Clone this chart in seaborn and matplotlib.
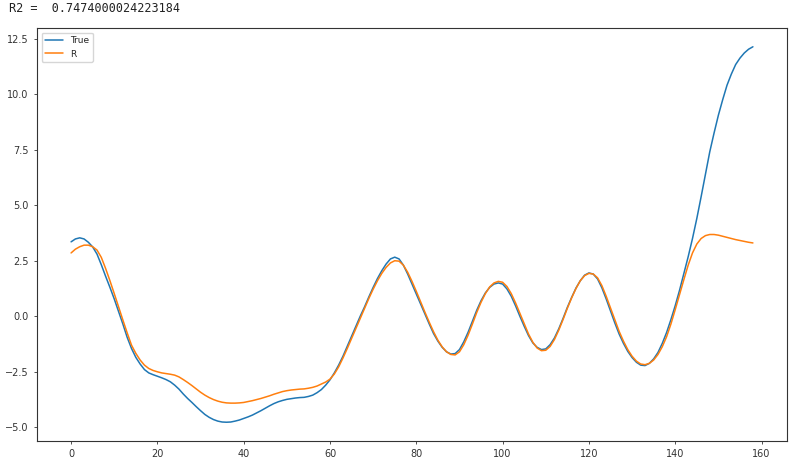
import numpy as np
import pandas as pd
import matplotlib
matplotlib.use('Agg')
import matplotlib.pyplot as plt
import seaborn as sns

# values, one per step
steps = list(range(159))
true_vals = [3.35, 3.48, 3.53, 3.48, 3.33, 3.12, 2.8, 2.32, 1.8, 1.3,
             0.78, 0.22, -0.35, -0.95, -1.45, -1.85, -2.15, -2.4, -2.55, -2.63,
             -2.7, -2.77, -2.85, -2.95, -3.1, -3.28, -3.5, -3.7, -3.88, -4.07,
             -4.25, -4.42, -4.55, -4.65, -4.72, -4.76, -4.77, -4.76, -4.72, -4.67,
             -4.6, -4.53, -4.45, -4.35, -4.25, -4.14, -4.03, -3.93, -3.85, -3.79,
             -3.74, -3.71, -3.68, -3.66, -3.65, -3.61, -3.55, -3.44, -3.3, -3.1,
             -2.86, -2.55, -2.2, -1.8, -1.35, -0.9, -0.45, 0.0, 0.42, 0.87,
             1.3, 1.7, 2.05, 2.35, 2.58, 2.66, 2.58, 2.3, 1.9, 1.45,
             1.0, 0.55, 0.1, -0.35, -0.78, -1.12, -1.4, -1.6, -1.7, -1.68,
             -1.5, -1.15, -0.72, -0.22, 0.27, 0.7, 1.05, 1.3, 1.45, 1.5,
             1.45, 1.23, 0.9, 0.47, 0.0, -0.45, -0.87, -1.2, -1.4, -1.5,
             -1.47, -1.28, -0.98, -0.57, -0.1, 0.4, 0.85, 1.27, 1.6, 1.85,
             1.95, 1.9, 1.68, 1.28, 0.78, 0.24, -0.3, -0.8, -1.22, -1.58,
             -1.86, -2.07, -2.2, -2.22, -2.12, -1.92, -1.63, -1.22, -0.73, -0.15,
             0.48, 1.17, 1.92, 2.68, 3.5, 4.4, 5.38, 6.4, 7.4, 8.25,
             9.05, 9.75, 10.4, 10.9, 11.33, 11.62, 11.85, 12.02, 12.13]
r_vals = [2.85, 3.02, 3.13, 3.2, 3.2, 3.13, 2.98, 2.65, 2.15, 1.6,
          1.02, 0.42, -0.17, -0.75, -1.3, -1.67, -1.97, -2.2, -2.35, -2.44,
          -2.5, -2.55, -2.58, -2.61, -2.65, -2.73, -2.85, -2.98, -3.12, -3.27,
          -3.42, -3.55, -3.66, -3.75, -3.82, -3.87, -3.9, -3.91, -3.91, -3.9,
          -3.88, -3.84, -3.8, -3.75, -3.7, -3.64, -3.58, -3.51, -3.45, -3.39,
          -3.35, -3.32, -3.3, -3.28, -3.27, -3.24, -3.2, -3.14, -3.05, -2.96,
          -2.83, -2.6, -2.28, -1.88, -1.45, -1.0, -0.55, -0.1, 0.35, 0.8,
          1.22, 1.6, 1.93, 2.2, 2.4, 2.5, 2.48, 2.3, 1.98, 1.57,
          1.12, 0.65, 0.18, -0.27, -0.7, -1.08, -1.38, -1.6, -1.72, -1.74,
          -1.6, -1.28, -0.85, -0.35, 0.17, 0.63, 1.02, 1.32, 1.5, 1.57,
          1.53, 1.34, 1.02, 0.6, 0.13, -0.35, -0.8, -1.17, -1.43, -1.55,
          -1.53, -1.36, -1.05, -0.63, -0.15, 0.36, 0.83, 1.25, 1.6, 1.83,
          1.93, 1.9, 1.73, 1.38, 0.9, 0.37, -0.17, -0.68, -1.12, -1.5,
          -1.8, -2.02, -2.15, -2.18, -2.12, -1.97, -1.72, -1.37, -0.92, -0.35,
          0.3, 0.98, 1.65, 2.3, 2.85, 3.25, 3.5, 3.63, 3.68, 3.68,
          3.65, 3.6, 3.55, 3.5, 3.45, 3.41, 3.37, 3.33, 3.3]
r2_score = 0.7474000024223184

sns.set_style('ticks')
plt.rcParams['font.family'] = ['DejaVu Sans']

df = pd.DataFrame({'step': steps, 'True': true_vals, 'R': r_vals})

fig = plt.figure(figsize=(7.95, 4.61), dpi=100)
ax = fig.add_axes([37 / 795, 1 - 441 / 461, 750 / 795, 413 / 461])

sns.lineplot(data=df, x='step', y='True', ax=ax, color='#1f77b4', linewidth=1.1, label='True')
sns.lineplot(data=df, x='step', y='R', ax=ax, color='#ff7f0e', linewidth=1.1, label='R')

ax.set_xlabel('')
ax.set_ylabel('')
ax.set_xticks([0, 20, 40, 60, 80, 100, 120, 140, 160])
ax.set_yticks([-5.0, -2.5, 0.0, 2.5, 5.0, 7.5, 10.0, 12.5])
ax.tick_params(labelsize=7, length=2.5, width=0.6, colors='#333333')
for sp in ax.spines.values():
    sp.set_linewidth(0.8)
    sp.set_color('#333333')
ax.legend(loc='upper left', fontsize=6.5, frameon=True, handlelength=2.0)

fig.text(9 / 795, 1 - 12 / 461, f'R2 =  {r2_score}', family='DejaVu Sans Mono',
         fontsize=8.5, color='#222222', va='baseline')

fig.savefig('out.png', dpi=100)
